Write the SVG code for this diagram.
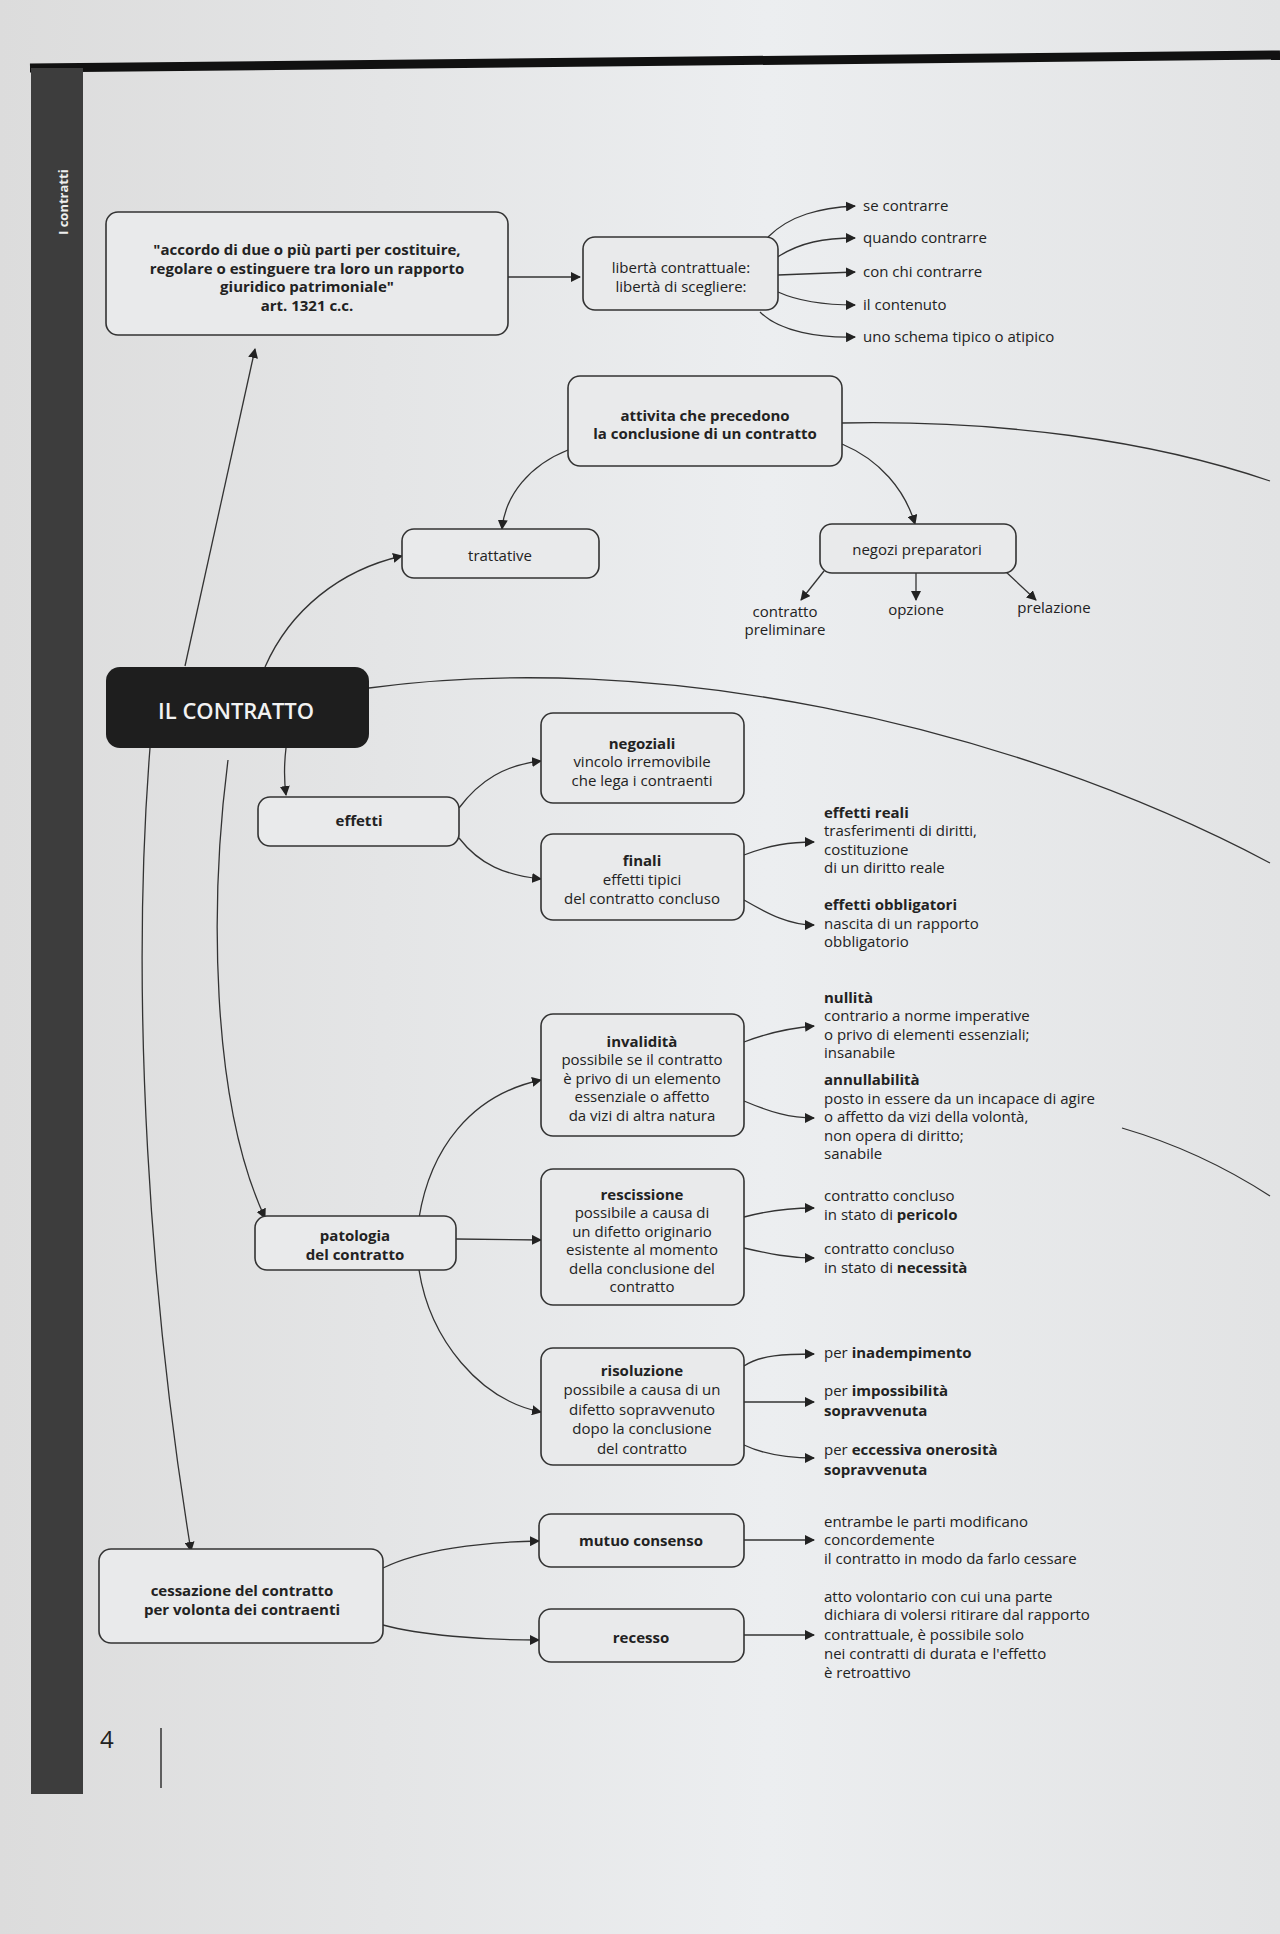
<svg xmlns="http://www.w3.org/2000/svg" width="1280" height="1934" viewBox="0 0 1280 1934">
<defs>
<marker id="ar" viewBox="0 0 10 10" refX="9" refY="5" markerWidth="10" markerHeight="10" orient="auto" markerUnits="userSpaceOnUse"><path d="M0,0 L10,5 L0,10 z" fill="#222"/></marker>
<linearGradient id="bg" x1="0" y1="0" x2="1" y2="0"><stop offset="0" stop-color="#dcdcdc"/><stop offset="0.6" stop-color="#eceef0"/><stop offset="1" stop-color="#e2e3e4"/></linearGradient>
</defs>
<style>
.t{font-family:"Open Sans","Liberation Sans",sans-serif;font-size:15px;fill:#222}
.b{font-weight:bold}
.c{text-anchor:middle}
.box{fill:#e9eaeb;stroke:#333;stroke-width:1.6}
.ln{fill:none;stroke:#333;stroke-width:1.3}
.la{fill:none;stroke:#333;stroke-width:1.3;marker-end:url(#ar)}
</style>
<rect width="1280" height="1934" fill="url(#bg)"/>
<path d="M30,68 L1280,55" stroke="#111" stroke-width="9"/>
<rect x="31" y="68" width="52" height="1726" fill="#3d3d3d"/>
<text class="t b" x="68" y="235" transform="rotate(-90 68 235)" style="fill:#eee;font-size:13px">I contratti</text>
<text class="t" x="100" y="1748" style="font-size:24px">4</text>
<path d="M161,1728 L161,1788" stroke="#333" stroke-width="1.5"/>

<g id="connectors">
<path class="la" d="M508,277 L580,277"/>
<path class="la" d="M768,237 C790,215 820,208 855,206"/>
<path class="la" d="M776,258 C800,242 825,238 855,238"/>
<path class="la" d="M778,275 L855,272"/>
<path class="la" d="M778,292 C800,302 825,305 855,305"/>
<path class="la" d="M760,312 C780,332 820,338 855,337"/>
<path class="ln" d="M842,423 C1000,420 1150,440 1270,481"/>
<path class="la" d="M568,450 C530,465 505,495 502,529"/>
<path class="la" d="M842,444 C880,460 905,490 915,524"/>
<path class="la" d="M824,571 L801,600"/>
<path class="la" d="M916,573 L916,600"/>
<path class="la" d="M1005,571 L1036,600"/>
<path class="ln" d="M369,688 C650,650 1000,720 1270,863"/>
<path class="ln" d="M1122,1128 C1180,1145 1230,1170 1270,1196"/>
<path class="la" d="M185,666 L255,349"/>
<path class="la" d="M265,667 C290,610 340,570 402,556"/>
<path class="la" d="M286,748 C284,765 284,780 286,795"/>
<path class="la" d="M228,760 C210,900 210,1100 265,1218"/>
<path class="la" d="M150,748 C130,1000 150,1300 191,1551"/>
<path class="la" d="M459,808 C480,780 505,765 541,761"/>
<path class="la" d="M459,838 C480,865 505,875 541,879"/>
<path class="la" d="M744,855 C770,845 790,842 814,842"/>
<path class="la" d="M744,900 C770,915 790,925 814,925"/>
<path class="la" d="M419,1218 C430,1150 470,1095 541,1080"/>
<path class="la" d="M456,1239 L541,1240"/>
<path class="la" d="M419,1270 C430,1340 480,1400 541,1412"/>
<path class="la" d="M744,1042 C770,1032 790,1028 814,1026"/>
<path class="la" d="M744,1101 C770,1112 790,1118 814,1118"/>
<path class="la" d="M744,1217 C770,1210 790,1208 814,1208"/>
<path class="la" d="M744,1248 C770,1254 790,1258 814,1258"/>
<path class="la" d="M744,1366 C760,1355 785,1354 814,1354"/>
<path class="la" d="M744,1402 L814,1402"/>
<path class="la" d="M744,1445 C765,1455 790,1458 814,1458"/>
<path class="la" d="M383,1568 C420,1550 480,1542 539,1541"/>
<path class="la" d="M383,1625 C420,1635 480,1640 539,1640"/>
<path class="la" d="M744,1540 L814,1540"/>
<path class="la" d="M744,1635 L814,1635"/>
</g>

<g id="definizione"><rect class="box" x="106" y="212" width="402" height="123" rx="12"/>
<text class="t b c" x="307" y="255">"accordo di due o più parti per costituire,</text>
<text class="t b c" x="307" y="274">regolare o estinguere tra loro un rapporto</text>
<text class="t b c" x="307" y="292">giuridico patrimoniale"</text>
<text class="t b c" x="307" y="311">art. 1321 c.c.</text></g>
<g id="liberta"><rect class="box" x="583" y="237" width="195" height="73" rx="12"/>
<text class="t c" x="681" y="273">libertà contrattuale:</text>
<text class="t c" x="681" y="292">libertà di scegliere:</text></g>
<g id="opzioni-liberta">
<text class="t" x="863" y="211">se contrarre</text>
<text class="t" x="863" y="243">quando contrarre</text>
<text class="t" x="863" y="277">con chi contrarre</text>
<text class="t" x="863" y="310">il contenuto</text>
<text class="t" x="863" y="342">uno schema tipico o atipico</text></g>
<g id="attivita"><rect class="box" x="568" y="376" width="274" height="90" rx="12"/>
<text class="t b c" x="705" y="421">attivita che precedono</text>
<text class="t b c" x="705" y="439">la conclusione di un contratto</text></g>
<g id="trattative"><rect class="box" x="402" y="529" width="197" height="49" rx="12"/>
<text class="t c" x="500" y="561">trattative</text></g>
<g id="negozi"><rect class="box" x="820" y="524" width="196" height="49" rx="12"/>
<text class="t c" x="917" y="555">negozi preparatori</text></g>
<g id="preliminare"><text class="t c" x="785" y="617">contratto</text><text class="t c" x="785" y="635">preliminare</text></g>
<g id="opzione"><text class="t c" x="916" y="615">opzione</text></g>
<g id="prelazione"><text class="t c" x="1054" y="613">prelazione</text></g>
<g id="il-contratto"><rect x="106" y="667" width="263" height="81" rx="14" fill="#1e1e1e"/>
<text class="t" x="158" y="719" style="fill:#f2f2f2;font-size:22px;font-weight:600">IL CONTRATTO</text></g>
<g id="effetti"><rect class="box" x="258" y="797" width="201" height="49" rx="12"/>
<text class="t b c" x="359" y="826">effetti</text></g>
<g id="negoziali"><rect class="box" x="541" y="713" width="203" height="90" rx="12"/>
<text class="t b c" x="642" y="749">negoziali</text>
<text class="t c" x="642" y="767">vincolo irremovibile</text>
<text class="t c" x="642" y="786">che lega i contraenti</text></g>
<g id="finali"><rect class="box" x="541" y="834" width="203" height="86" rx="12"/>
<text class="t b c" x="642" y="866">finali</text>
<text class="t c" x="642" y="885">effetti tipici</text>
<text class="t c" x="642" y="904">del contratto concluso</text></g>
<g id="effetti-reali"><text class="t b" x="824" y="818">effetti reali</text>
<text class="t" x="824" y="836">trasferimenti di diritti,</text>
<text class="t" x="824" y="855">costituzione</text>
<text class="t" x="824" y="873">di un diritto reale</text></g>
<g id="effetti-obbligatori"><text class="t b" x="824" y="910">effetti obbligatori</text>
<text class="t" x="824" y="929">nascita di un rapporto</text>
<text class="t" x="824" y="947">obbligatorio</text></g>
<g id="patologia"><rect class="box" x="255" y="1216" width="201" height="54" rx="12"/>
<text class="t b c" x="355" y="1241">patologia</text>
<text class="t b c" x="355" y="1260">del contratto</text></g>
<g id="invalidita"><rect class="box" x="541" y="1014" width="203" height="122" rx="12"/>
<text class="t b c" x="642" y="1047">invalidità</text>
<text class="t c" x="642" y="1065">possibile se il contratto</text>
<text class="t c" x="642" y="1084">è privo di un elemento</text>
<text class="t c" x="642" y="1102">essenziale o affetto</text>
<text class="t c" x="642" y="1121">da vizi di altra natura</text></g>
<g id="nullita"><text class="t b" x="824" y="1003">nullità</text>
<text class="t" x="824" y="1021">contrario a norme imperative</text>
<text class="t" x="824" y="1040">o privo di elementi essenziali;</text>
<text class="t" x="824" y="1058">insanabile</text></g>
<g id="annullabilita"><text class="t b" x="824" y="1085">annullabilità</text>
<text class="t" x="824" y="1104">posto in essere da un incapace di agire</text>
<text class="t" x="824" y="1122">o affetto da vizi della volontà,</text>
<text class="t" x="824" y="1141">non opera di diritto;</text>
<text class="t" x="824" y="1159">sanabile</text></g>
<g id="rescissione"><rect class="box" x="541" y="1169" width="203" height="136" rx="12"/>
<text class="t b c" x="642" y="1200">rescissione</text>
<text class="t c" x="642" y="1218">possibile a causa di</text>
<text class="t c" x="642" y="1237">un difetto originario</text>
<text class="t c" x="642" y="1255">esistente al momento</text>
<text class="t c" x="642" y="1274">della conclusione del</text>
<text class="t c" x="642" y="1292">contratto</text></g>
<g id="pericolo"><text class="t" x="824" y="1201">contratto concluso</text>
<text class="t" x="824" y="1220">in stato di <tspan class="b">pericolo</tspan></text></g>
<g id="necessita"><text class="t" x="824" y="1254">contratto concluso</text>
<text class="t" x="824" y="1273">in stato di <tspan class="b">necessità</tspan></text></g>
<g id="risoluzione"><rect class="box" x="541" y="1348" width="203" height="117" rx="12"/>
<text class="t b c" x="642" y="1376">risoluzione</text>
<text class="t c" x="642" y="1395">possibile a causa di un</text>
<text class="t c" x="642" y="1415">difetto sopravvenuto</text>
<text class="t c" x="642" y="1434">dopo la conclusione</text>
<text class="t c" x="642" y="1454">del contratto</text></g>
<g id="inadempimento"><text class="t" x="824" y="1358">per <tspan class="b">inadempimento</tspan></text></g>
<g id="impossibilita"><text class="t" x="824" y="1396">per <tspan class="b">impossibilità</tspan></text>
<text class="t b" x="824" y="1416">sopravvenuta</text></g>
<g id="onerosita"><text class="t" x="824" y="1455">per <tspan class="b">eccessiva onerosità</tspan></text>
<text class="t b" x="824" y="1475">sopravvenuta</text></g>
<g id="cessazione"><rect class="box" x="99" y="1549" width="284" height="94" rx="12"/>
<text class="t b c" x="242" y="1596">cessazione del contratto</text>
<text class="t b c" x="242" y="1615">per volonta dei contraenti</text></g>
<g id="mutuo"><rect class="box" x="539" y="1514" width="205" height="53" rx="12"/>
<text class="t b c" x="641" y="1546">mutuo consenso</text></g>
<g id="recesso"><rect class="box" x="539" y="1609" width="205" height="53" rx="12"/>
<text class="t b c" x="641" y="1643">recesso</text></g>
<g id="mutuo-desc"><text class="t" x="824" y="1527">entrambe le parti modificano</text>
<text class="t" x="824" y="1545">concordemente</text>
<text class="t" x="824" y="1564">il contratto in modo da farlo cessare</text></g>
<g id="recesso-desc"><text class="t" x="824" y="1602">atto volontario con cui una parte</text>
<text class="t" x="824" y="1620">dichiara di volersi ritirare dal rapporto</text>
<text class="t" x="824" y="1640">contrattuale, è possibile solo</text>
<text class="t" x="824" y="1659">nei contratti di durata e l'effetto</text>
<text class="t" x="824" y="1678">è retroattivo</text></g>
</svg>
